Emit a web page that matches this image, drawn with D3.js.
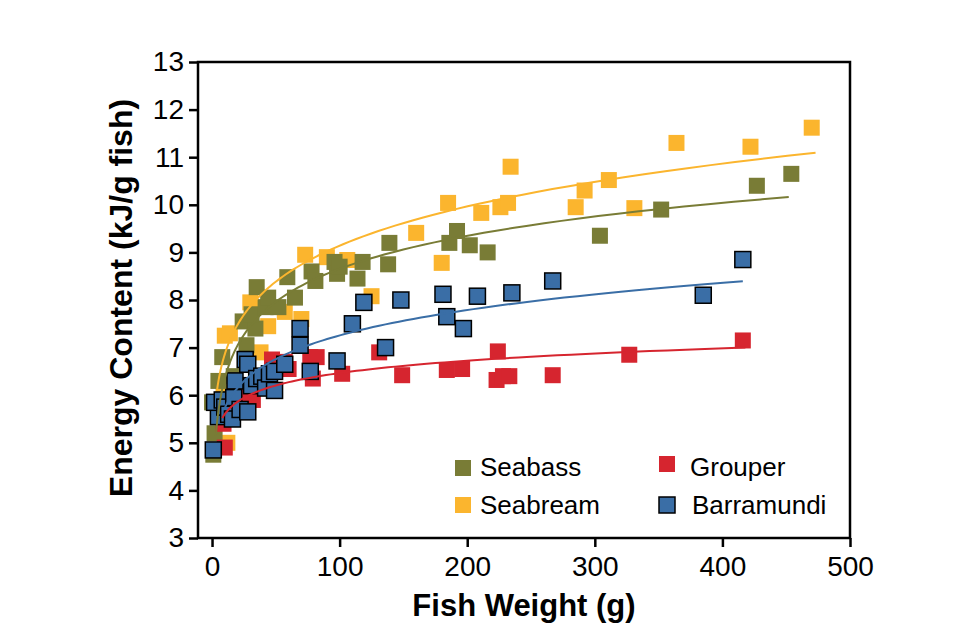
<!DOCTYPE html>
<html>
<head>
<meta charset="utf-8">
<script src="https://cdn.jsdelivr.net/npm/d3@7"></script>
<style>
  body { margin: 0; background: #fff; }
  text { font-family: "Liberation Sans", Arial, sans-serif; }
</style>
</head>
<body>
<div id="chart"></div>
<script>
var W = 960, H = 633;
var box = {left:198, right:850, top:62, bottom:538};

// data: [weight g, energy kJ/g]
var seabream = [[12,5.0],[9,6.2],[10,7.25],[14,7.3],[30,7.95],[38,6.9],[44,7.45],[57,7.75],[70,7.6],
  [73,8.95],[90,8.9],[106,8.84],[125,8.08],[160,9.41],[180,8.78],[185,10.04],[211,9.83],[226,9.95],
  [232,10.04],[234,10.8],[285,9.95],[292,10.3],[311,10.52],[331,9.93],[364,11.3],[422,11.22],[470,11.62]]
var seabass = [[1,4.75],[2,5.2],[0,5.85],[5,6.3],[8,6.8],[17,6.4],[27,7.05],[24,7.55],[34,7.4],[31,7.7],
  [35,8.27],[42,7.85],[44,8.05],[52,7.85],[59,8.48],[65,8.05],[78,8.6],[81,8.4],[96,8.8],[98,8.55],
  [100,8.7],[114,8.45],[118,8.8],[138,8.75],[139,9.2],[186,9.2],[192,9.45],[202,9.15],[216,9.0],
  [304,9.35],[352,9.9],[427,10.4],[454,10.65]]
var grouper = [[10,4.9],[9,5.4],[24,5.85],[32,5.9],[20,6.0],[40,6.2],[47,6.75],[57,6.7],[60,6.55],
  [77,6.8],[79,6.35],[82,6.8],[102,6.45],[131,6.9],[149,6.42],[184,6.53],[196,6.55],[223,6.32],
  [224,6.92],[228,6.4],[233,6.4],[267,6.42],[327,6.85],[416,7.15]]
var barramundi = [[1,4.85],[5,5.55],[2,5.85],[8,5.9],[10,5.75],[13,5.6],[16,5.5],[17,5.95],[22,5.7],
  [28,5.65],[18,6.3],[26,6.75],[28,6.65],[31,6.2],[35,6.35],[39,6.4],[42,6.15],[45,6.45],[49,6.1],
  [49,6.5],[57,6.65],[69,7.05],[69,7.4],[77,6.5],[98,6.72],[110,7.5],[119,7.95],[136,7.0],[148,8.0],
  [181,8.12],[184,7.65],[197,7.4],[208,8.08],[235,8.15],[267,8.4],[385,8.1],[416,8.85]]

var seriesNames = ["Seabream","Seabass","Grouper","Barramundi"]
var seriesData = [seabream, seabass, grouper, barramundi]
var seriesColors = ["#fbb52e","#797c36","#d6252f","#3a6ea6"]

// trend lines as shown in the figure (type, coefficients, x range)
var trendTypes = ["power","log","log","power"]
var trendA = [5.15, 4.05, 4.74, 4.53]
var trendB = [0.1246, 1.0, 0.3745, 0.1023]
var trendFrom = [4, 3, 8, 10]
var trendTo = [473, 452, 418, 416]

var xTicks = [0,100,200,300,400,500]
var yTicks = [3,4,5,6,7,8,9,10,11,12,13]

var svg = d3.select("#chart").append("svg").attr("width", W).attr("height", H)

var x = d3.scaleLinear().domain([-11, 500]).range([box.left, box.right])
var y = d3.scaleLinear().domain([3, 13]).range([box.bottom, box.top])

// axes
svg.append("g")
  .attr("transform", "translate(0," + box.bottom + ")")
  .call(d3.axisBottom(x).tickValues(xTicks).tickSize(9).tickPadding(9))
  .call(function(g){ g.select(".domain").remove() })
  .selectAll("text").style("font-size","28px").attr("fill","#000")
svg.append("g")
  .attr("transform", "translate(" + box.left + ",0)")
  .call(d3.axisLeft(y).tickValues(yTicks).tickSize(9).tickPadding(5))
  .call(function(g){ g.select(".domain").remove() })
  .selectAll("text").style("font-size","28px").attr("fill","#000")
svg.selectAll(".tick line").attr("stroke","#000").attr("stroke-width",2.5)

svg.append("rect")
  .attr("x", box.left).attr("y", box.top)
  .attr("width", box.right - box.left).attr("height", box.bottom - box.top)
  .attr("fill","none").attr("stroke","#000").attr("stroke-width",2.5)

// markers
var sz = 16
seriesData.forEach(function(d, i){
  svg.append("g").selectAll("rect").data(d).enter().append("rect")
    .attr("x", function(p){ return x(p[0]) - sz/2 })
    .attr("y", function(p){ return y(p[1]) - sz/2 })
    .attr("width", sz).attr("height", sz)
    .attr("fill", seriesColors[i])
    .attr("stroke", seriesNames[i] === "Barramundi" ? "#000" : "none")
    .attr("stroke-width", 1.5)
})

// trend lines
var line = d3.line().x(function(p){ return x(p[0]) }).y(function(p){ return y(p[1]) })
seriesData.forEach(function(d, i){
  var a = trendA[i], b = trendB[i], t = trendTypes[i]
  var f = function(v){ return t === "power" ? a * Math.pow(v, b) : a + b * Math.log(v) }
  var lo = trendFrom[i], hi = trendTo[i]
  var pts = d3.range(0, 101).map(function(k){ var v = lo * Math.pow(hi / lo, k / 100); return [v, f(v)] })
  svg.append("path").datum(pts).attr("d", line)
    .attr("fill","none").attr("stroke", seriesColors[i]).attr("stroke-width", 2)
})

// legend
var legendItems = [
  {name:"Seabass", c:1, lx:455, ly:460, tx:480, ty:476},
  {name:"Grouper", c:2, lx:659, ly:456, tx:690, ty:476},
  {name:"Seabream", c:0, lx:455, ly:497, tx:480, ty:514},
  {name:"Barramundi", c:3, lx:659, ly:497, tx:692, ty:514}
]
legendItems.forEach(function(l){
  svg.append("rect").attr("x", l.lx).attr("y", l.ly).attr("width", 16).attr("height", 16)
    .attr("fill", seriesColors[l.c])
    .attr("stroke", l.name === "Barramundi" ? "#000" : "none").attr("stroke-width", 1.5)
  svg.append("text").attr("x", l.tx).attr("y", l.ty).style("font-size","26px").text(l.name)
})

// axis titles
svg.append("text").attr("x", 524).attr("y", 616).attr("text-anchor","middle")
  .style("font-size","31px").style("font-weight","bold").text("Fish Weight (g)")
svg.append("text").attr("transform","translate(132,298) rotate(-90)").attr("text-anchor","middle")
  .style("font-size","32px").style("font-weight","bold").text("Energy Content (kJ/g fish)")
</script>
</body>
</html>
